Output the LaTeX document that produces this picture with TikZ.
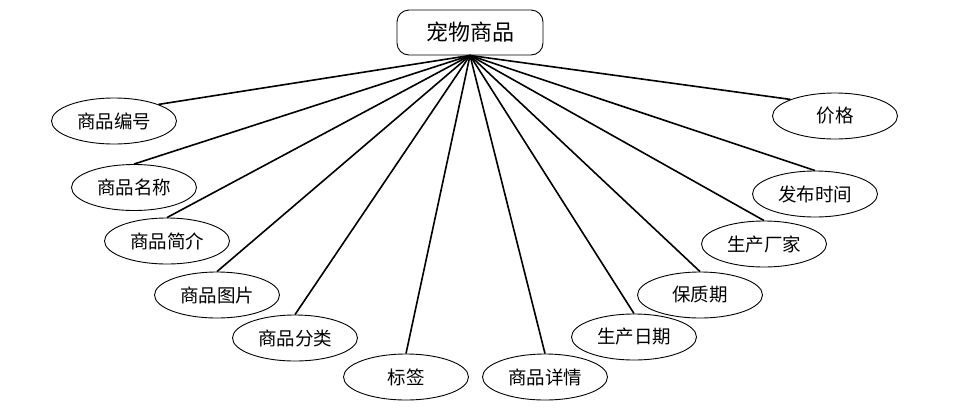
\documentclass[tikz,border=0pt]{standalone}
\usepackage{fontspec}
\newfontfamily\cjk{Noto Sans CJK SC}
\usetikzlibrary{shapes.geometric}
\tikzstyle{entity} = [rectangle, draw, rounded corners=12pt, line width=0.9pt, minimum width=146pt, minimum height=45pt, font=\cjk\fontsize{22}{22}\selectfont]
\tikzstyle{attr} = [ellipse, draw, line width=0.9pt, minimum width=125pt, minimum height=46pt, inner sep=0pt, font=\cjk\fontsize{18.5}{18.5}\selectfont]
\tikzstyle{link} = [line width=1.6pt]

\begin{document}
\begin{tikzpicture}[x=1pt,y=-1pt]
\useasboundingbox[fill=white] (0,0) rectangle (963,416);

% Nodes
\node (pet) [entity] at (470,32.5) {宠物商品};
\node (id) [attr] at (114,121) {商品编号};
\node (name) [attr] at (134,187.5) {商品名称};
\node (intro) [attr] at (167,241) {商品简介};
\node (pic) [attr] at (217,295) {商品图片};
\node (cat) [attr] at (295,338) {商品分类};
\node (tag) [attr] at (406,377) {标签};
\node (detail) [attr] at (545,377) {商品详情};
\node (mfd) [attr] at (634,337) {生产日期};
\node (shelf) [attr] at (700,295) {保质期};
\node (maker) [attr] at (764,244) {生产厂家};
\node (pub) [attr] at (815,194) {发布时间};
\node (price) [attr] at (835,116) {价格};

% Lines
\draw [link] (pet.south) -- (id.north east);
\draw [link] (pet.south) -- (price.north west);
\foreach \n in {name,intro,pic,cat,tag,detail,mfd,shelf,maker,pub}
  \draw [link] (pet.south) -- (\n.north);

\end{tikzpicture}
\end{document}
